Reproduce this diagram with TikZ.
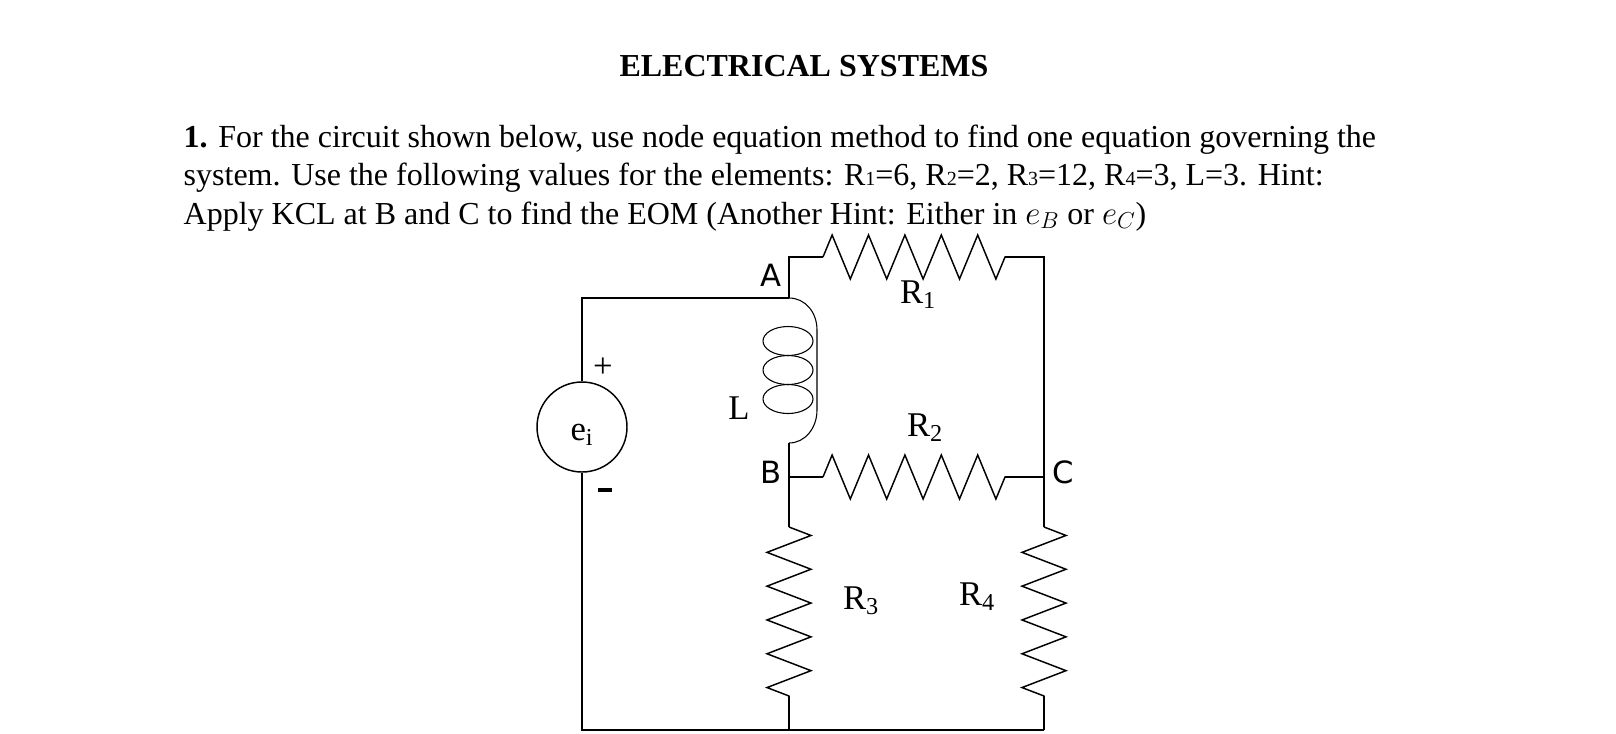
\documentclass[tikz,border=0pt]{standalone}
\usepackage{fontspec}
\setmainfont{Liberation Serif}
\newfontfamily\lsans{DejaVu Sans}
\usetikzlibrary{decorations.pathmorphing}
\newcommand{\sub}[1]{{\fontsize{15}{15}\selectfont #1}}
\begin{document}
\begin{tikzpicture}[x=0.75pt,y=-0.75pt,line width=1.1pt,
  txt/.style={anchor=base west,inner sep=0,font=\fontsize{24}{28}\selectfont},
  lab/.style={inner sep=0,font=\fontsize{26}{28}\selectfont},
  sl/.style={inner sep=0,font=\lsans\fontsize{23}{24}\selectfont},
  res/.style={decorate,decoration={zigzag,segment length=#1,amplitude=16.5pt}}]
\useasboundingbox (0,0) rectangle (1616,733);
% text
\node[inner sep=0,anchor=base,font=\bfseries\fontsize{24}{28}\selectfont] (title) at (804,76) {ELECTRICAL SYSTEMS};
\node[txt] (l1) at (183,147) {\textbf{1.} For the circuit shown below, use node equation method to find one equation governing the};
\node[txt] (l2) at (183,185) {system. Use the following values for the elements: R\sub1=6, R\sub2=2, R\sub3=12, R\sub4=3, L=3. Hint:};
\node[txt] (l3) at (183,224) {Apply KCL at B and C to find the EOM (Another Hint: Either in $e_B$ or $e_C$)};
% circuit points
\coordinate (src) at (582,427);
\coordinate (tl) at (582,298);
\coordinate (La) at (789,298);
\coordinate (A) at (789,257);
\coordinate (r1a) at (823,257);
\coordinate (r1b) at (1005,257);
\coordinate (Ar) at (1044,257);
\coordinate (Lb) at (789,443);
\coordinate (B) at (789,477);
\coordinate (r2a) at (823,477);
\coordinate (r2b) at (1005,477);
\coordinate (C) at (1044,477);
\coordinate (r3a) at (789,527);
\coordinate (r3b) at (789,696);
\coordinate (r4a) at (1044,527);
\coordinate (r4b) at (1044,696);
\coordinate (bl) at (582,730);
\coordinate (bB) at (789,730);
\coordinate (br) at (1044,730);
\node[draw,circle,minimum size=90*0.75pt,inner sep=0] (ei) at (src) {};
\node[lab] at (582,435) {e\textsubscript{i}};
\node[inner sep=0,font=\fontsize{26}{26}\selectfont] at (603,368) {+};
\draw[line width=2.6pt] (598,490) -- (612,490);
% wires
\draw (ei.north) -- (tl) -- (La);
\draw (ei.south) -- (bl) -- (bB) -- (br);
\draw (La) -- (A) -- (r1a);
\draw[res=36.4*0.75pt] (r1a) -- (r1b);
\draw (r1b) -- (Ar) -- (C) -- (r4a);
\draw (Lb) -- (B) -- (r2a);
\draw[res=36.4*0.75pt] (r2a) -- (r2b);
\draw (r2b) -- (C);
\draw (B) -- (r3a);
\draw[res=33.8*0.75pt] (r3a) -- (r3b);
\draw (r3b) -- (bB);
\draw[res=33.8*0.75pt] (r4a) -- (r4b);
\draw (r4b) -- (br);
% inductor
\begin{scope}[line width=0.8pt]
\draw (La) .. controls (805,298) and (817,312) .. (817,330) -- (817,410)
  .. controls (817,428) and (805,443) .. (Lb);
\foreach \y in {341,370,399} \draw (788,\y) ellipse[x radius=25,y radius=14.5];
\end{scope}
% labels
\node[sl] at (771,275) {A};
\node[sl] at (771,472) {B};
\node[sl] at (1063,472) {C};
\node[lab] at (739,408) {L};
\node[lab] at (918,295) {R\textsubscript{1}};
\node[lab] at (925,428) {R\textsubscript{2}};
\node[lab] at (861,601) {R\textsubscript{3}};
\node[lab] at (977,597) {R\textsubscript{4}};
\end{tikzpicture}
\end{document}
